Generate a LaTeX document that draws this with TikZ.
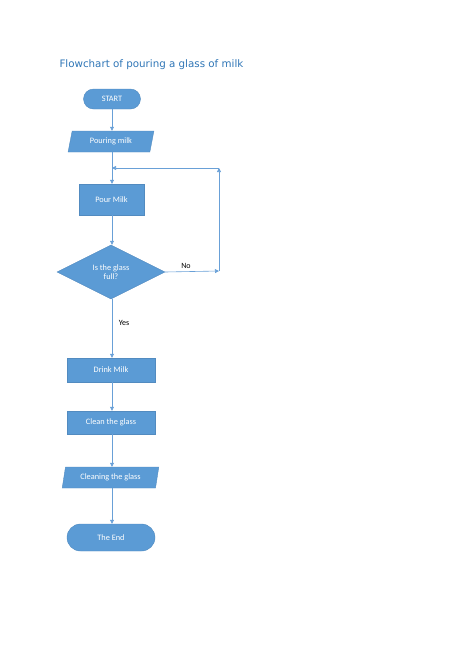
\documentclass[tikz,border=0pt]{standalone}
\usepackage{fontspec}
\setmainfont{Carlito}
\newfontfamily\titlefont{DejaVu Sans}
\usetikzlibrary{shapes.geometric,arrows.meta}
\definecolor{boxblue}{RGB}{91,155,213}
\definecolor{lineblue}{RGB}{105,160,215}
\definecolor{titleblue}{RGB}{46,117,182}
\tikzset{
  base/.style={fill=boxblue, draw=boxblue!90!black, line width=0.4pt, text=white, font=\fontsize{8.3}{9.5}\selectfont, inner sep=0pt},
  terminal/.style={base, rounded corners=10pt},
  proc/.style={base},
  io/.style={base, trapezium, trapezium left angle=73, trapezium right angle=107, minimum height=21pt, trapezium stretches=true},
  decision/.style={base, diamond, aspect=2, minimum width=108pt, minimum height=54pt, align=center},
  conn/.style={draw=lineblue, line width=0.6pt, -{Triangle[length=4pt,width=4pt]}},
  lbl/.style={font=\fontsize{8}{9}\selectfont, text=black}
}
\begin{document}
\begin{tikzpicture}[x=1pt,y=1pt]
\useasboundingbox (0,0) rectangle (474,-670);
\node[anchor=west, text=titleblue, font=\titlefont\fontsize{10.3}{12}\selectfont] (title) at (56,-65) {Flowchart of pouring a glass of milk};
\node[terminal, minimum width=57pt, minimum height=20pt] (start) at (112,-99) {START};
\node[io, minimum width=86pt] (pour1) at (111,-141.5) {Pouring milk};
\node[proc, minimum width=65pt, minimum height=31pt] (pour) at (111.5,-199.5) {Pour Milk};
\node[decision] (dec) at (111,-272) {Is the glass\\full?};
\node[proc, minimum width=88pt, minimum height=24pt] (drink) at (111,-370) {Drink Milk};
\node[proc, minimum width=88pt, minimum height=23pt] (clean) at (111,-422.5) {Clean the glass};
\node[io, minimum width=97pt] (cleaning) at (110.5,-477.5) {Cleaning the glass};
\node[terminal, minimum width=88pt, minimum height=27pt, rounded corners=13.5pt] (theend) at (111,-537.5) {The End};
\coordinate (br) at (219,-271);
\coordinate (tr) at (219,-168);
\coordinate (tl) at (112,-168);
\draw[conn] (start.south -| 112,0) -- (pour1.north -| 112,0);
\draw[conn] (pour1.south -| 112,0) -- (pour.north -| 112,0);
\draw[conn] (dec.east) -- (br);
\draw[conn] (br) -- (tr);
\draw[conn] (tr) -- (tl);
\draw[conn] (pour.south -| 112,0) -- (dec.north -| 112,0);
\draw[conn] (dec.south -| 112,0) -- (drink.north -| 112,0);
\draw[conn] (drink.south -| 112,0) -- (clean.north -| 112,0);
\draw[conn] (clean.south -| 112,0) -- (cleaning.north -| 112,0);
\draw[conn] (cleaning.south -| 112,0) -- (theend.north -| 112,0);
\node[lbl] (no) at (186,-266) {No};
\node[lbl] (yes) at (124,-323) {Yes};
\end{tikzpicture}
\end{document}
